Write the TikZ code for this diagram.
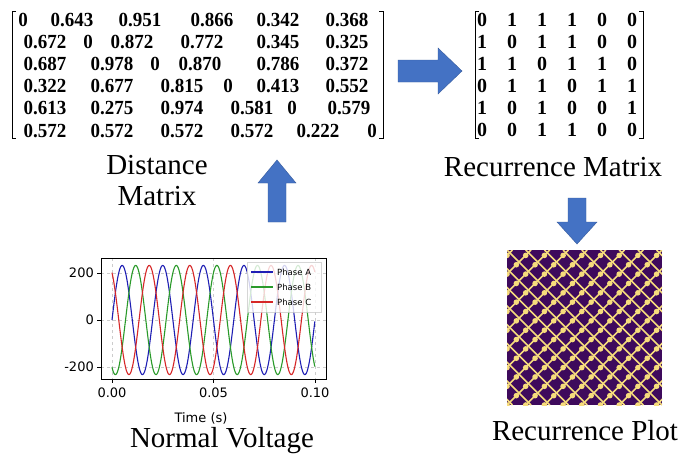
\documentclass[tikz,border=0pt]{standalone}
\usepackage{fontspec}
\setmainfont{Liberation Serif}
\newfontfamily\plotfont{DejaVu Sans}
\begin{document}
\begin{tikzpicture}[x=1pt,y=-1pt,
  mat/.style={font=\fontsize{20}{20}\selectfont\bfseries, inner sep=0pt},
  ttl/.style={font=\fontsize{29}{31}\selectfont, inner sep=0pt, align=center},
  tick/.style={font=\plotfont\fontsize{13}{13}\selectfont, inner sep=0pt},
  leg/.style={font=\plotfont\fontsize{8.5}{8.5}\selectfont, inner sep=0pt, anchor=west},
  bluearrow/.style={fill=arrowblue, draw=arrowblue!80!black, line width=0.4pt},
  brk/.style={line width=0.8pt}]
\definecolor{arrowblue}{HTML}{4472C4}
\definecolor{rpurple}{HTML}{3E0A5C}
\definecolor{ryellow}{HTML}{F6DC7C}
\definecolor{pblue}{HTML}{1F1FB4}
\definecolor{pgreen}{HTML}{2A9A2A}
\definecolor{pred}{HTML}{D62728}
\useasboundingbox (0,0) rectangle (685,472);
\fill[white] (0,0) rectangle (685,472);
% ---- Distance matrix
\draw[brk] (16,11) -- (12,11) -- (12,138) -- (16,138);
\draw[brk] (379,11) -- (383,11) -- (383,138) -- (379,138);
\newcommand\ent[3]{\node[mat] at (#1,#2) {\scalebox{0.95}[1]{#3}};}
\ent{23}{20}{0}\ent{72}{20}{0.643}\ent{140}{20}{0.951}\ent{212}{20}{0.866}\ent{278}{20}{0.342}\ent{347}{20}{0.368}
\ent{45}{42}{0.672}\ent{88}{42}{0}\ent{132}{42}{0.872}\ent{202}{42}{0.772}\ent{278}{42}{0.345}\ent{347}{42}{0.325}
\ent{45}{64}{0.687}\ent{112}{64}{0.978}\ent{155}{64}{0}\ent{200}{64}{0.870}\ent{278}{64}{0.786}\ent{347}{64}{0.372}
\ent{45}{86}{0.322}\ent{112}{86}{0.677}\ent{182}{86}{0.815}\ent{228}{86}{0}\ent{278}{86}{0.413}\ent{347}{86}{0.552}
\ent{45}{108}{0.613}\ent{112}{108}{0.275}\ent{182}{108}{0.974}\ent{252}{108}{0.581}\ent{292}{108}{0}\ent{349}{108}{0.579}
\ent{45}{131}{0.572}\ent{112}{131}{0.572}\ent{182}{131}{0.572}\ent{252}{131}{0.572}\ent{318}{131}{0.222}\ent{372}{131}{0}
\node[ttl] (dm) at (157,181) {Distance\\Matrix};
% ---- Recurrence matrix
\draw[brk] (479,11) -- (475,11) -- (475,138) -- (479,138);
\draw[brk] (639,11) -- (643,11) -- (643,138) -- (639,138);
\foreach \row [count=\j] in {{0,1,1,1,0,0},{1,0,1,1,0,0},{1,1,0,1,1,0},{0,1,1,0,1,1},{1,0,1,0,0,1},{0,0,1,1,0,0}}{
  \foreach \v [count=\i] in \row {
    \node[mat] at ({452+30*\i},{-2+22*\j}) {\v};
  }
}
\node[ttl] (rm) at (553,167) {Recurrence Matrix};
% ---- arrows
\fill[bluearrow] (398,60) -- (438,60) -- (438,48) -- (462,71) -- (438,94) -- (438,82) -- (398,82) -- cycle;
\fill[bluearrow] (268,222) -- (268,183) -- (258,183) -- (277,160) -- (296,183) -- (286,183) -- (286,222) -- cycle;
\fill[bluearrow] (568,198) -- (586,198) -- (586,222) -- (597,222) -- (577,244) -- (557,222) -- (568,222) -- cycle;
% ---- voltage plot
\draw[black!20, dashed, line width=0.4pt] (112,258) -- (112,379) (213.5,258) -- (213.5,379) (315,258) -- (315,379)
   (101,273) -- (326,273) (101,320) -- (326,320) (101,367) -- (326,367);
\begin{scope}
\clip (101,258) rectangle (326,379);
\draw[pblue, line width=1.1pt] plot[domain=0:1, samples=300, smooth] ({112+203*\x},{320-54.6*sin(1800*\x)});
\draw[pgreen, line width=1.1pt] plot[domain=0:1, samples=300, smooth] ({112+203*\x},{320-54.6*sin(1800*\x-120)});
\draw[pred, line width=1.1pt] plot[domain=0:1, samples=300, smooth] ({112+203*\x},{320-54.6*sin(1800*\x+120)});
\end{scope}
\fill[white, opacity=0.8, draw=black!20] (247,262) rectangle (321,312);
\draw[pblue, line width=1.1pt] (251,272) -- (273,272);
\draw[pgreen, line width=1.1pt] (251,287) -- (273,287);
\draw[pred, line width=1.1pt] (251,302) -- (273,302);
\node[leg] at (277,272) {Phase A};
\node[leg] at (277,287) {Phase B};
\node[leg] at (277,302) {Phase C};
\draw[line width=0.8pt] (101,258) rectangle (326,379);
\foreach \yy/\lab in {273/200,320/0,367/-200}{
  \draw (101,\yy) -- (97,\yy);
  \node[tick, anchor=east] at (94,\yy) {\lab};
}
\foreach \xx/\lab in {112/0.00,213.5/0.05,315/0.10}{
  \draw (\xx,379) -- (\xx,383);
  \node[tick, anchor=north] at (\xx,388) {\lab};
}
\node[tick] at (201,418) {Time (s)};
\node[ttl] (nv) at (222,441) {Normal Voltage};
% ---- recurrence plot
\fill[rpurple] (507,250) rectangle (662,405);
\begin{scope}
\clip (507,250) rectangle (662,405);
\foreach \k in {-10,...,10}{
  \draw[ryellow, line width=1.6pt] ({507+18.7*\k},250) -- ({507+18.7*\k+155},405);
  \draw[ryellow, line width=1.6pt] ({507+18.7*\k},405) -- ({507+18.7*\k+155},250);
}
\foreach \i in {0,...,18}{
  \foreach \j in {0,...,18}{
    \pgfmathtruncatemacro\parity{mod(\i+\j,2)}
    \ifnum\parity=0
      \fill[ryellow] ({507+9.35*\i},{405-9.35*\j}) circle (2.8);
    \fi
  }
}
\end{scope}
\node[ttl] (rp) at (585,431) {Recurrence Plot};
\end{tikzpicture}
\end{document}
